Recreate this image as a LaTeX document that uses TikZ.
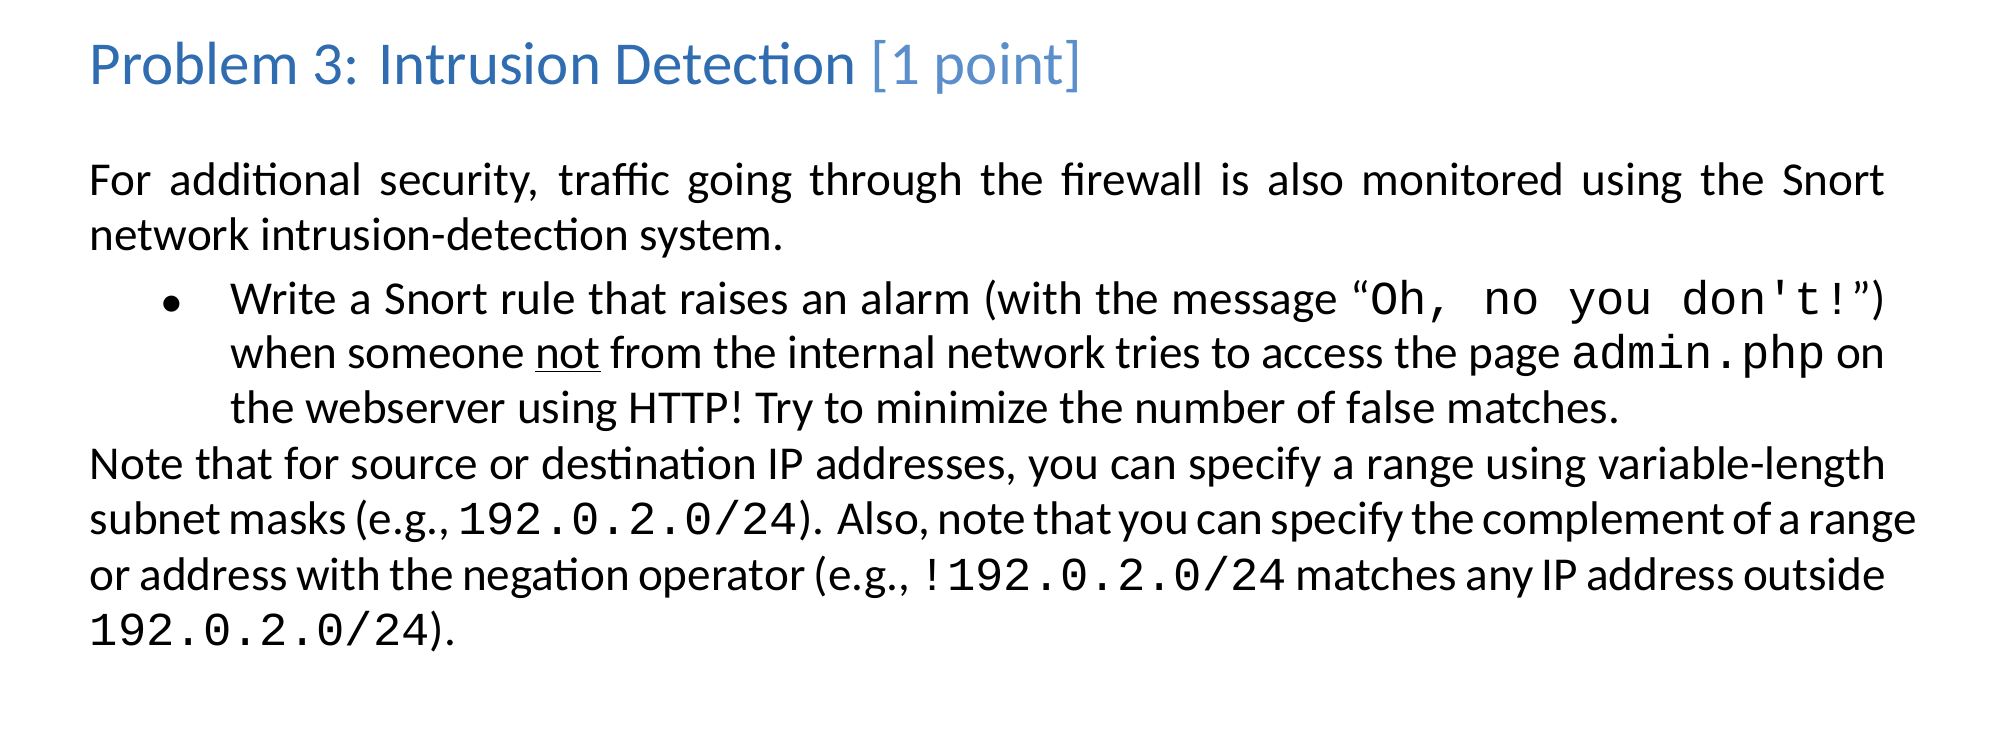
\documentclass[tikz,border=0pt]{standalone}
\usepackage{fontspec}
\setmainfont{Carlito}
\setmonofont{Liberation Mono}
\usepackage{xcolor}
\definecolor{titleblue}{HTML}{2F6CB0}
\definecolor{lightblue}{HTML}{5B8FCB}
\begin{document}
\begin{tikzpicture}[x=0.639pt,y=-0.639pt,
  ln/.style={anchor=base west,inner sep=0pt,font=\fontsize{23.6}{28}\selectfont}]
\useasboundingbox (0,0) rectangle (1560,577);
\node[anchor=base west,inner sep=0pt,font=\fontsize{30.5}{36}\selectfont,text=titleblue] (t) at (70,66) {Problem 3: Intrusion Detection \textcolor{lightblue}{[1 point]}};
\node[ln] (l1) at (70,153) {\makebox[898pt][s]{For additional security, traffic going through the firewall is also monitored using the Snort}};
\node[ln] (l2) at (70,196) {network intrusion-detection system.};
\node[ln,font=\fontsize{20}{24}\selectfont] (b) at (126,246) {$\bullet$};
\node[ln] (l3) at (180,246) {\makebox[827.5pt][s]{Write a Snort rule that raises an alarm (with the message “\texttt{Oh, no you don't!}”)}};
\node[ln] (l4) at (180,288) {\makebox[827.5pt][s]{when someone \underline{not} from the internal network tries to access the page \texttt{admin.php} on}};
\node[ln] (l5) at (180,331) {the webserver using HTTP! Try to minimize the number of false matches.};
\node[ln] (l6) at (70,375) {\makebox[898pt][s]{Note that for source or destination IP addresses, you can specify a range using variable-length}};
\node[ln] (l7) at (70,418) {\makebox[898pt][s]{subnet masks (e.g., \texttt{192.0.2.0/24}). Also, note that you can specify the complement of a range}};
\node[ln] (l8) at (70,462) {\makebox[898pt][s]{or address with the negation operator (e.g., \texttt{!192.0.2.0/24} matches any IP address outside}};
\node[ln] (l9) at (70,505) {\texttt{192.0.2.0/24}).};
\end{tikzpicture}
\end{document}
